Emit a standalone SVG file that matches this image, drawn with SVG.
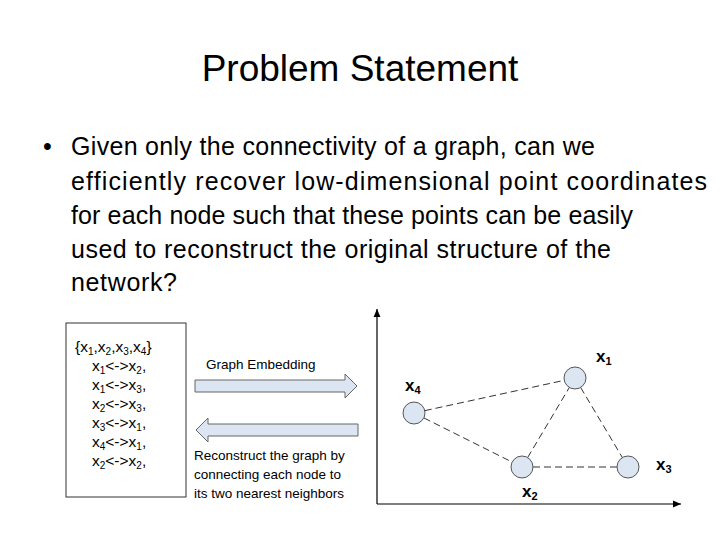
<svg xmlns="http://www.w3.org/2000/svg" width="720" height="540" viewBox="0 0 720 540">
<style>
.t{font-family:"Liberation Sans",Arial,sans-serif;fill:#000}
.b{font-size:25px}
.s{font-size:13.5px}
.m{font-size:15.5px}
.n{fill:#dce6f2;stroke:#555;stroke-width:1}
.e{stroke:#333;stroke-width:1;stroke-dasharray:7,4;fill:none}
.ar{fill:#dce6f2;stroke:#666;stroke-width:1}
.lb{font-size:17px;font-weight:bold}
</style>
<defs><marker id="ah" markerWidth="8" markerHeight="8" refX="7" refY="4" orient="auto"><path d="M0,1 L7,4 L0,7 Z" fill="#000"/></marker></defs>
<rect width="720" height="540" fill="#fff"/>
<text class="t" x="360" y="81" font-size="37" text-anchor="middle">Problem Statement</text>
<text class="t b" x="43" y="155">•</text>
<text class="t b" x="71" y="155" textLength="524">Given only the connectivity of a graph, can we</text>
<text class="t b" x="71" y="190" textLength="636">efficiently recover low-dimensional point coordinates</text>
<text class="t b" x="71" y="224" textLength="562">for each node such that these points can be easily</text>
<text class="t b" x="71" y="258" textLength="540">used to reconstruct the original structure of the</text>
<text class="t b" x="71" y="291" textLength="106">network?</text>
<g id="list">
<rect x="66" y="323" width="120" height="174" fill="#fff" stroke="#333"/>
<text class="t m" x="75" y="352">{x<tspan font-size="10" dy="3">1</tspan><tspan dy="-3">,x</tspan><tspan font-size="10" dy="3">2</tspan><tspan dy="-3">,x</tspan><tspan font-size="10" dy="3">3</tspan><tspan dy="-3">,x</tspan><tspan font-size="10" dy="3">4</tspan><tspan dy="-3">}</tspan></text>
<text class="t m" x="92" y="371">x<tspan font-size="10" dy="3">1</tspan><tspan dy="-3">&lt;-&gt;x</tspan><tspan font-size="10" dy="3">2</tspan><tspan dy="-3">,</tspan></text>
<text class="t m" x="92" y="390">x<tspan font-size="10" dy="3">1</tspan><tspan dy="-3">&lt;-&gt;x</tspan><tspan font-size="10" dy="3">3</tspan><tspan dy="-3">,</tspan></text>
<text class="t m" x="92" y="409">x<tspan font-size="10" dy="3">2</tspan><tspan dy="-3">&lt;-&gt;x</tspan><tspan font-size="10" dy="3">3</tspan><tspan dy="-3">,</tspan></text>
<text class="t m" x="92" y="428">x<tspan font-size="10" dy="3">3</tspan><tspan dy="-3">&lt;-&gt;x</tspan><tspan font-size="10" dy="3">1</tspan><tspan dy="-3">,</tspan></text>
<text class="t m" x="92" y="447">x<tspan font-size="10" dy="3">4</tspan><tspan dy="-3">&lt;-&gt;x</tspan><tspan font-size="10" dy="3">1</tspan><tspan dy="-3">,</tspan></text>
<text class="t m" x="92" y="466">x<tspan font-size="10" dy="3">2</tspan><tspan dy="-3">&lt;-&gt;x</tspan><tspan font-size="10" dy="3">2</tspan><tspan dy="-3">,</tspan></text>
</g>
<g id="arrows">
<path class="ar" d="M195,380 H345 V374 L357,386 L345,398 V392 H195 Z"/>
<text class="t s" x="206" y="369">Graph Embedding</text>
<path class="ar" d="M358,424 H208 V418 L196,430 L208,442 V436 H358 Z"/>
<text class="t s" x="194" y="460">Reconstruct the graph by</text>
<text class="t s" x="194" y="479">connecting each node to</text>
<text class="t s" x="194" y="498">its two nearest neighbors</text>
</g>
<g id="axes" stroke="#000" stroke-width="1.2">
<line x1="377" y1="504" x2="377" y2="309" marker-end="url(#ah)"/>
<line x1="377" y1="504" x2="681" y2="504" marker-end="url(#ah)"/>
</g>
<g id="edges">
<line class="e" x1="414" y1="413" x2="575" y2="378"/>
<line class="e" x1="414" y1="413" x2="522" y2="467"/>
<line class="e" x1="522" y1="467" x2="575" y2="378"/>
<line class="e" x1="575" y1="378" x2="628" y2="467"/>
<line class="e" x1="522" y1="467" x2="628" y2="467"/>
</g>
<g id="x1"><circle class="n" cx="575" cy="378" r="11"/><text class="t lb" x="596" y="362">x<tspan font-size="11" dy="3">1</tspan></text></g>
<g id="x4"><circle class="n" cx="414" cy="413" r="11"/><text class="t lb" x="405" y="391">x<tspan font-size="11" dy="3">4</tspan></text></g>
<g id="x2"><circle class="n" cx="522" cy="467" r="11"/><text class="t lb" x="522" y="497">x<tspan font-size="11" dy="3">2</tspan></text></g>
<g id="x3"><circle class="n" cx="628" cy="467" r="11"/><text class="t lb" x="656" y="470">x<tspan font-size="11" dy="3">3</tspan></text></g>
</svg>
